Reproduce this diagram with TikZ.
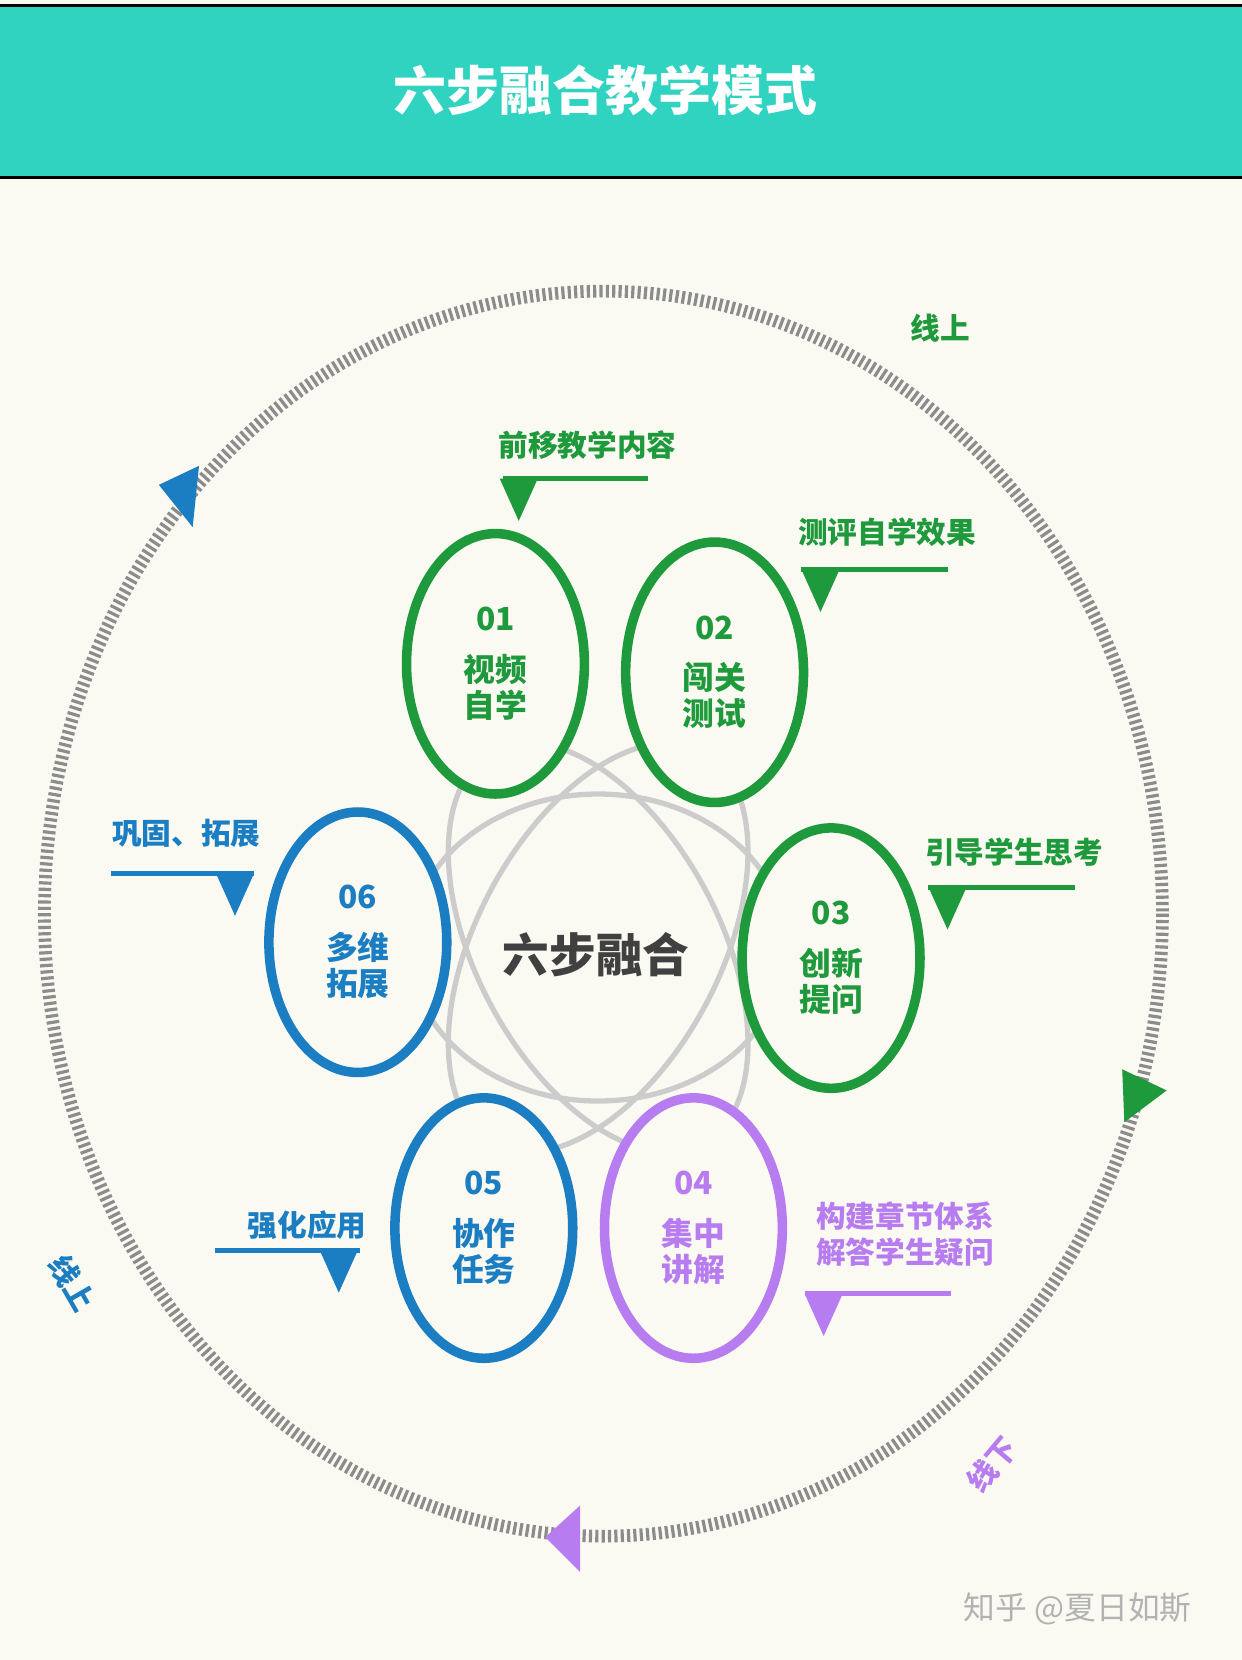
\documentclass[tikz,border=0pt]{standalone}
\usepackage{fontspec}
\setmainfont{Noto Sans CJK SC}
\usetikzlibrary{shapes.geometric,positioning}
\definecolor{teal1}{HTML}{2FD3C0}
\definecolor{bgc}{HTML}{FBFAF2}
\definecolor{grn}{HTML}{1E9A3C}
\definecolor{blu}{HTML}{1B7EC2}
\definecolor{pur}{HTML}{B77CF0}
\definecolor{ring}{HTML}{8C8C8C}
\begin{document}
\begin{tikzpicture}[
    x=1pt, y=-1pt,
    stepnode/.style={ellipse, draw, line width=9pt, fill=bgc,
        minimum width=168pt, minimum height=246pt, align=center,
        font=\bfseries\fontsize{30}{34}\selectfont, inner sep=0pt},
    note/.style={font=\bfseries\fontsize{28}{34}\selectfont, align=left, inner sep=0pt},
    star/.style={draw=gray!40, line width=5pt}
]
% background and header
\fill[bgc] (0,0) rectangle (1173,1568);
\useasboundingbox (0,0) rectangle (1173,1568);
\fill[teal1] (0,6) rectangle (1173,168);
\draw[line width=3pt] (0,5) -- (1173,5);
\draw[line width=3pt] (0,168) -- (1173,168);
\node[font=\bfseries\fontsize{50}{60}\selectfont, text=white] (title) at (572,85) {六步融合教学模式};

% outer ring
\draw[ring, line width=12pt, dash pattern=on 3pt off 3pt] (570,863) ellipse [x radius=528, y radius=588];
\fill[blu] (150,458) -- (188,440) -- (182,498) -- cycle;
\fill[grn] (1060,1010) -- (1102,1030) -- (1062,1060) -- cycle;
\fill[pur] (548,1422) -- (548,1485) -- (515,1452) -- cycle;
\node[note, text=grn] (on1) at (888,310) {线上};
\node[note, text=blu, rotate=-60] (on2) at (68,1212) {线上};
\node[note, text=pur, rotate=50] (off) at (937,1383) {线下};

% star of ellipses
\draw[star] (565,895) ellipse [x radius=178, y radius=145];
\draw[star, rotate around={62:(565,895)}] (565,895) ellipse [x radius=210, y radius=115];
\draw[star, rotate around={-62:(565,895)}] (565,895) ellipse [x radius=210, y radius=115];
\node[font=\bfseries\fontsize{44}{50}\selectfont, text=black!75] (core) at (563,902) {六步融合};

% steps
\node[stepnode, draw=grn, text=grn] (s1) at (468,627) {01\\[14pt]视频\\自学};
\node[stepnode, draw=grn, text=grn] (s2) at (675,635) {02\\[14pt]闯关\\测试};
\node[stepnode, draw=grn, text=grn] (s3) at (785,905) {03\\[14pt]创新\\提问};
\node[stepnode, draw=pur, text=pur] (s4) at (655,1160) {04\\[14pt]集中\\讲解};
\node[stepnode, draw=blu, text=blu] (s5) at (457,1160) {05\\[14pt]协作\\任务};
\node[stepnode, draw=blu, text=blu] (s6) at (338,890) {06\\[14pt]多维\\拓展};

% callouts
\node[note, text=grn] (n1) at (555,420) {前移教学内容};
\node[note, text=grn] (n2) at (838,503) {测评自学效果};
\node[note, text=grn] (n3) at (958,805) {引导学生思考};
\node[note, text=pur] (n4) at (855,1166) {构建章节体系\\解答学生疑问};
\node[note, text=blu] (n5) at (290,1157) {强化应用};
\node[note, text=blu] (n6) at (176,787) {巩固、拓展};
\foreach \n/\c/\a/\b/\y/\t in {n1/grn/475/612/452/490, n2/grn/757/895/538/775,
    n3/grn/877/1015/838/895, n4/pur/760/898/1222/778,
    n5/blu/203/340/1181/320, n6/blu/105/240/825/222} {
  \draw[\c, line width=5pt] (\a,\y) -- (\b,\y);
  \fill[\c] (\t-18,\y) -- (\t+18,\y) -- (\t,\y+40) -- cycle;
}

% watermark
\node[font=\fontsize{30}{36}\selectfont, text=gray!60] (mark) at (1018,1520) {知乎 @夏日如斯};
\end{tikzpicture}
\end{document}
